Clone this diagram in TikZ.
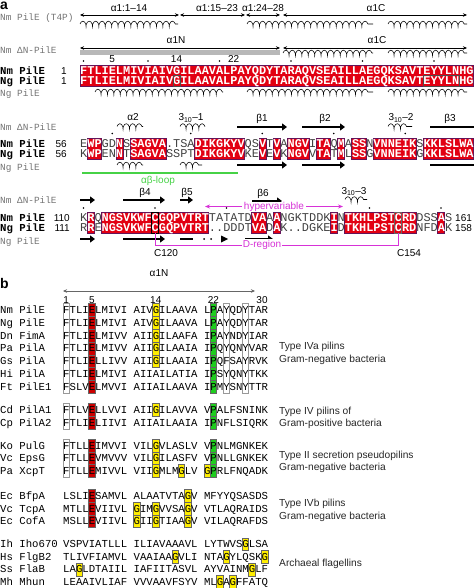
\documentclass[tikz,border=0pt]{standalone}
\usepackage{fontspec}
\setmainfont{Liberation Sans}
\setmonofont{Liberation Mono}
\usetikzlibrary{arrows.meta,decorations.pathmorphing}
\definecolor{idred}{RGB}{226,0,18}
\definecolor{idframe}{RGB}{100,20,90}
\definecolor{conred}{RGB}{204,0,0}
\definecolor{conyellow}{RGB}{255,238,0}
\definecolor{congreen}{RGB}{30,205,30}
\definecolor{loopgreen}{RGB}{70,210,70}
\definecolor{regpink}{RGB}{215,50,215}
\newcommand{\idr}[1]{{\bfseries\color{white}#1}}
\tikzset{
  seqa/.style={font=\fontsize{11.92}{12}\selectfont\ttfamily, inner sep=0pt, anchor=base west, text=black!75, text height=7.6pt, text depth=0.8pt},
  seqtag/.style={font=\fontsize{10.67}{12}\selectfont\ttfamily\bfseries, inner sep=0pt, anchor=base west},
  gtag/.style={font=\fontsize{9.4}{11}\selectfont\ttfamily, inner sep=0pt, anchor=base west, text=black!55},
  num/.style={font=\fontsize{10}{12}\selectfont, inner sep=0pt, anchor=base},
  lab/.style={font=\fontsize{10}{12}\selectfont, inner sep=0pt, anchor=base},
  idbox/.style={fill=idred, draw=idframe, line width=0.5pt},
  harr/.style={{Stealth[length=4pt,width=3.5pt]}-{Stealth[length=4pt,width=3.5pt]}, line width=0.6pt},
  helix/.style={decorate, decoration={coil, amplitude=2.8pt, segment length=6.4pt, aspect=0.45}, line width=0.55pt},
  strand/.style={line width=2.4pt, -{Triangle[length=5pt,width=7pt]}},
  sheet/.style={line width=2.4pt},
  region/.style={regpink, line width=1pt},
  seqb/.style={font=\fontsize{10.67}{12}\selectfont\ttfamily, inner sep=0pt, anchor=base west, text=black},
  grp/.style={font=\fontsize{10.2}{12}\selectfont, inner sep=0pt, anchor=base west, text=black!85},
  hbox/.style={draw=black!60, line width=0.4pt},
  panel/.style={font=\fontsize{14}{16}\selectfont\bfseries, inner sep=0pt, anchor=base west}
}
\def\runsb{2/3,6/6,8/12,17/23,26/26,28/28,30/32,34/35,37/37,39/40,42/47,49/55}
\def\runsc{2/2,4/18,25/26,28/28,36/36,38/47,51/51}
\begin{document}
\begin{tikzpicture}[x=1pt,y=-1pt]
  \useasboundingbox (0,0) rectangle (474,588);
  \node[panel] (a) at (0,10) {a};

  % block 1
  \node[gtag] (t4p) at (0,21) {Nm PilE (T4P)};
  \node[lab] (h1) at (129,12) {α1:1–14};
  \node[lab] (h2) at (217,12) {α1:15–23};
  \node[lab] (h3) at (263,12) {α1:24–28};
  \node[lab] (h4) at (376,12) {α1C};
  \draw [harr] (80,15) -- (179,15);
  \draw [harr] (180,15) -- (245,15);
  \draw [harr] (246,15) -- (280,15);
  \draw [harr] (283,15) -- (467,15);
  \draw [helix] (80,24) -- (178,24);
  \draw [helix] (247,24) -- (373,24);
  \draw [helix] (388,24) -- (467,24);

  \node[gtag] (dn1) at (0,54) {Nm ΔN-PilE};
  \node[lab] (a1n) at (176,44) {α1N};
  \node[lab] (a1c) at (377,44) {α1C};
  \draw [harr] (80,48) -- (280,48);
  \draw [harr] (283,48) -- (467,48);
  \fill[black!28] (80,50.5) rectangle (280,55.5);
  \draw [helix] (283,53) -- (373,53);
  \draw [helix] (388,53) -- (467,53);
  \foreach \c in {1,10,20,30,40,50} \fill ({80+(\c-0.5)*7.15},61) circle (0.9pt);
  \foreach \c in {5,14,22} \node[num] (p\c) at ({80+(\c-0.5)*7.15},63) {\c};

  \node[seqtag] (nml1) at (0,74.2) {Nm PilE};
  \node[seqtag] (ngl1) at (0,84.8) {Ng PilE};
  \node[num, anchor=base east] (i1) at (67,74.2) {1};
  \node[num, anchor=base east] (j1) at (67,84.8) {1};
  \filldraw[idbox] (80,65) rectangle ({80+55*7.15},86.2);
  \node[seqa] (nm1) at (80,74.2) {\idr{FTLIELMIVIAIVGILAAVALPAYQDYTARAQVSEAILLAEGQKSAVTEYYLNHG}};
  \node[seqa] (ng1) at (80,84.8) {\idr{FTLIELMIVIAIVGILAAVALPAYQDYTARAQVSEAILLAEGQKSAVTEYYLNHG}};
  \draw[black!70, line width=0.5pt] ({80+13*7.15},75.6) rectangle ({80+14*7.15},86.2);
  \draw[black!70, line width=0.5pt] ({80+48*7.15},75.6) rectangle ({80+53*7.15},86.2);

  \node[gtag] (ngs1) at (0,97) {Ng PilE};
  \draw [helix] (95,92) -- (223,92);
  \draw [helix] (247,92) -- (373,92);
  \draw [helix] (388,92) -- (467,92);

  % block 2
  \node[gtag] (dn2) at (0,131) {Nm ΔN-PilE};
  \node[lab] (a2) at (133,121) {α2};
  \node[lab] (t101) at (191,121) {3\textsubscript{10}–1};
  \node[lab] (b1) at (262,122) {β1};
  \node[lab] (b2) at (325,122) {β2};
  \node[lab] (t102) at (401,121) {3\textsubscript{10}–2};
  \node[lab] (b3) at (450,122) {β3};
  \draw [helix] (117,126.5) -- (143,126.5);
  \draw [helix] (180,126.5) -- (205,126.5);
  \draw [helix] (388,126.5) -- (412,126.5);
  \draw [strand] (237,127) -- (287,127);
  \draw [strand] (302,127) -- (345,127);
  \draw [sheet] (430,127) -- (474,127);
  \foreach \c in {5,16,26,36,46} \fill ({80+(\c-0.5)*7.15},133.5) circle (0.9pt);

  \node[seqtag] (nml2) at (0,147.2) {Nm PilE};
  \node[seqtag] (ngl2) at (0,157.8) {Ng PilE};
  \node[num, anchor=base east] (i2) at (67,147.2) {56};
  \node[num, anchor=base east] (j2) at (67,157.8) {56};
  \foreach \a/\b in \runsb \filldraw[idbox] ({80+(\a-1)*7.15},138) rectangle ({80+\b*7.15},159.2);
  \node[seqa] (nm2) at (80,147.2) {E\idr{WP}GD\idr{N}S\idr{SAGVA}.TSA\idr{DIKGKYV}QS\idr{V}T\idr{V}A\idr{NGV}I\idr{TA}Q\idr{M}A\idr{SS}N\idr{VNNEIK}S\idr{KKLSLWA}};
  \node[seqa] (ng2) at (80,157.8) {K\idr{WP}EN\idr{N}T\idr{SAGVA}SSPT\idr{DIKGKYV}KE\idr{V}E\idr{V}K\idr{NGV}V\idr{TA}T\idr{M}L\idr{SS}G\idr{VNNEIK}G\idr{KKLSLWA}};

  \node[gtag] (ngs2) at (0,171) {Ng PilE};
  \draw [helix] (117,165) -- (143,165);
  \draw [helix] (180,165) -- (202,165);
  \draw [strand] (237,165) -- (287,165);
  \draw [strand] (302,165) -- (345,165);
  \draw [sheet] (430,165) -- (474,165);
  \draw [loopgreen, line width=1.3pt] (82,173) -- (238,173);
  \node[lab, text=loopgreen, anchor=center] (ab) at (158,181) {αβ-loop};

  % block 3
  \node[gtag] (dn3) at (0,203) {Nm ΔN-PilE};
  \node[lab] (b4) at (145,195) {β4};
  \node[lab] (b5) at (187,195) {β5};
  \node[lab] (b6) at (263,196) {β6};
  \node[lab] (t103) at (354,194) {3\textsubscript{10}–3};
  \draw [strand] (80,200) -- (95,200);
  \draw [strand] (123,200) -- (165,200);
  \draw [strand] (180,200) -- (193,200);
  \draw [strand] (252,201) -- (282,201);
  \draw [helix] (345,199.5) -- (367,199.5);
  \foreach \c in {1,11,21,41,51} \fill ({80+(\c-0.5)*7.15},208) circle (0.9pt);
  \draw [region, {Stealth[length=5pt,width=4pt]}-{Stealth[length=5pt,width=4pt]}] (205,206.5) -- node[lab, anchor=center, fill=white, inner xsep=1.5pt, inner ysep=0pt, text=regpink] (hv) {hypervariable} (343,206.5);

  \node[seqtag] (nml3) at (0,221.2) {Nm PilE};
  \node[seqtag] (ngl3) at (0,231.8) {Ng PilE};
  \node[num, anchor=base east] (i3) at (70,221.2) {110};
  \node[num, anchor=base east] (j3) at (70,231.8) {111};
  \foreach \a/\b in \runsc \filldraw[idbox] ({80+(\a-1)*7.15},212) rectangle ({80+\b*7.15},233.2);
  \node[seqa] (nm3) at (80,221.2) {K\idr{R}Q\idr{NGSVKWFCGQPVTRT}TATATD\idr{VA}A\idr{A}NGKTDDK\idr{I}N\idr{TKHLPSTCRD}DSS\idr{A}S};
  \node[seqa] (ng3) at (80,231.8) {R\idr{R}E\idr{NGSVKWFCGQPVTRT}..DDDT\idr{VA}D\idr{A}K..DGKE\idr{I}D\idr{TKHLPSTCRD}NFD\idr{A}K};
  \draw[black, line width=0.6pt] ({80+10*7.15},212) rectangle ({80+11*7.15},233.2);
  \draw[black!60, line width=0.6pt] ({80+44*7.15},212) rectangle ({80+45*7.15},233.2);
  \node[num, anchor=base west] (e3) at (455,221.2) {161};
  \node[num, anchor=base west] (f3) at (455,231.8) {158};

  \node[gtag] (ngs3) at (0,244) {Ng PilE};
  \draw [strand] (80,239) -- (95,239);
  \draw [strand] (123,239) -- (165,239);
  \draw [sheet] (180,239) -- (193,239);
  \fill (204,239) circle (1pt);
  \fill (211,239) circle (1pt);
  \fill (221,235.5) -- (228,239) -- (221,242.5) -- cycle;
  \draw [strand] (245,239) -- (273,239);
  \draw [region] ({80+10.5*7.15},233.2) |- node[lab, pos=0.72, anchor=center, fill=white, inner sep=1pt, text=regpink] (dr) {D-region} ({80+44.5*7.15},245) -- ({80+44.5*7.15},233.2);
  \node[lab, anchor=center] (c120) at (166,253) {C120};
  \node[lab, anchor=center] (c154) at (409,253) {C154};

  % panel b
  \node[panel] (b) at (0,288) {b};
  \node[lab] (a1nb) at (159,276) {α1N};
  \draw [harr, black!60, line width=0.5pt] (63,291) -- (255,291);
  \foreach \t/\x in {1/66.2,5/91.8,14/155.8,22/213.4,30/262} \node[num] (pb\t) at (\x,303.5) {\t};

  \foreach \yy in {310,322.8,335.6,348.4,361.2,374,386.8,410,422.6,445.5,458.1,470.7,496,508.6,521.2}
    \filldraw[hbox, fill=conred] ({63+4*6.4},{\yy-6.4}) rectangle ++(6.4,12.8);
  \foreach \yy in {310,322.8,335.6,348.4,361.2,410,445.5,458.1,470.7,508.6,521.2}
    \filldraw[hbox, fill=conyellow] ({63+14*6.4},{\yy-6.4}) rectangle ++(6.4,12.8);
  \foreach \yy in {310,322.8,335.6,348.4,361.2,374,386.8,410,422.6,445.5,458.1,470.7}
    \filldraw[hbox, fill=congreen] ({63+23*6.4},{\yy-6.4}) rectangle ++(6.4,12.8);
  \foreach \ix/\yy in {18/470.7,22/470.7,19/496,19/508.6,19/521.2,11/508.6,11/521.2,28/544.2,17/556.8,25/556.8,31/556.8,2/569.4,29/569.4,24/582,26/582}
    \filldraw[hbox, fill=conyellow] ({63+\ix*6.4},{\yy-6.4}) rectangle ++(6.4,12.8);
  \draw[black!40, line width=0.6pt] (63,303.6) rectangle (69.4,393.2);
  \draw[black!40, line width=0.6pt] ({63+25*6.4},303.6) rectangle ({63+26*6.4},393.2);
  \draw[black!40, line width=0.6pt] ({63+28*6.4},303.6) rectangle ({63+29*6.4},393.2);
  \draw[black!40, line width=0.6pt] (63,403.6) rectangle (69.4,429);
  \draw[black!40, line width=0.6pt] (63,439.1) rectangle (69.4,477.1);

  \foreach \nm/\sq/\yy [count=\i] in {
      Nm PilE/FTLIELMIVI AIVGILAAVA LPAYQDYTAR/310,
      Ng PilE/FTLIELMIVI AIVGILAAVA LPAYQDYTAR/322.8,
      Dn FimA/FTLIELMIVV AIIGILAAFA IPAYNDYIAR/335.6,
      Pa PilA/FTLIELMIVV AIIGILAAIA IPQYQNYVAR/348.4,
      Gs PilA/FTLIELLIVV AIIGILAAIA IPQFSAYRVK/361.2,
      Hi PilA/FTLIELMIVI AIIAILATIA IPSYQNYTKK/374,
      Ft PilE1/FSLVELMVVI AIIAILAAVA IPMYSNYTTR/386.8,
      Cd PilA1/FTLVELLVVI AIIGILAVVA VPALFSNINK/410,
      Cp PilA2/FTLIELIIVI AIIAILAAIA IPNFLSIQRK/422.6,
      Ko PulG/FTLLEIMVVI VILGVLASLV VPNLMGNKEK/445.5,
      Vc EpsG/FTLLEVMVVV VILGILASFV VPNLLGNKEK/458.1,
      Pa XcpT/FTLLEMIVVL VIIGMLMGLV GPRLFNQADK/470.7,
      Ec BfpA/LSLIESAMVL ALAATVTAGV MFYYQSASDS/496,
      Vc TcpA/MTLLEVIIVL GIMGVVSAGV VTLAQRAIDS/508.6,
      Ec CofA/MSLLEVIIVL GIIGTIAAGV VILAQRAFDS/521.2,
      Ih Iho670/VSPVIATLLL ILIAVAAAVL LYTWVSGLSA/544.2,
      Hs FlgB2/TLIVFIAMVL VAAIAAGVLI NTAGYLQSKG/556.8,
      Ss FlaB/LAGLDTAIIL IAFIITASVL AYVAINMGLF/569.4,
      Mh Mhun/LEAAIVLIAF VVVAAVFSYV MLGAGFFATQ/582} {
    \node[seqb] (nb\i) at (0,{\yy+3.5}) {\nm};
    \node[seqb] (sb\i) at (63,{\yy+3.5}) {\sq};
  }

  \node[grp] (g1) at (279,349.5) {Type IVa pilins};
  \node[grp] (g1b) at (279,362.5) {Gram-negative bacteria};
  \node[grp] (g2) at (279,414.5) {Type IV pilins of};
  \node[grp] (g2b) at (279,426.5) {Gram-positive bacteria};
  \node[grp] (g3) at (279,458) {Type II secretion pseudopilins};
  \node[grp] (g3b) at (279,470.5) {Gram-negative bacteria};
  \node[grp] (g4) at (279,506.5) {Type IVb pilins};
  \node[grp] (g4b) at (279,519.5) {Gram-negative bacteria};
  \node[grp] (g5) at (279,566.5) {Archaeal flagellins};
\end{tikzpicture}
\end{document}
